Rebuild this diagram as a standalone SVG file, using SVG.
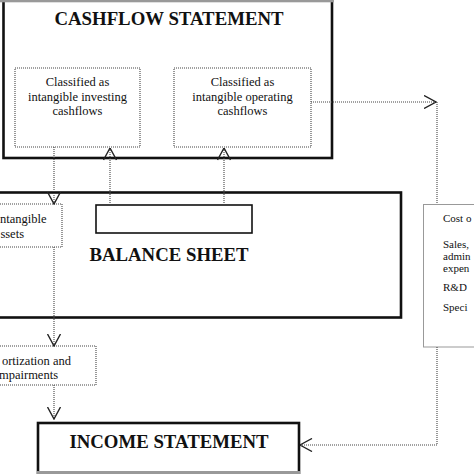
<svg xmlns="http://www.w3.org/2000/svg" width="474" height="474" viewBox="0 0 474 474">
<defs>
<style>
.thick{fill:none;stroke:#111;stroke-width:2.6}
.dot{fill:none;stroke:#444;stroke-width:1.1;stroke-dasharray:1 1}
.conn{fill:none;stroke:#444;stroke-width:1.1;stroke-dasharray:1 1}
.title{font-family:"Liberation Serif","Times New Roman",serif;font-weight:bold;font-size:18.8px;fill:#111;text-anchor:middle}
.lbl{font-family:"Liberation Serif","Times New Roman",serif;font-size:12.5px;fill:#111}
.sm{font-family:"Liberation Serif","Times New Roman",serif;font-size:11px;fill:#111}
.c{text-anchor:middle}
.e{text-anchor:end}
</style>
<marker id="ah" viewBox="0 0 13 14" refX="12.5" refY="7" markerWidth="13" markerHeight="14" markerUnits="userSpaceOnUse" orient="auto">
<path d="M0.5,0.5 L12.5,7 L0.5,13.5" fill="none" stroke="#222" stroke-width="1.4"/>
</marker>
</defs>
<rect width="474" height="474" fill="#fff"/>

<g id="cashflow">
<rect class="thick" x="3.5" y="-5" width="328.5" height="163"/>
<rect x="0" y="0" width="334" height="2.3" fill="#999"/>
<text class="title" x="169" y="25">CASHFLOW STATEMENT</text>
</g>

<g id="investing">
<rect class="dot" x="15" y="68" width="125" height="79" fill="#fff"/>
<text class="lbl c" x="77.5" y="86">Classified as</text>
<text class="lbl c" x="77.5" y="100.5">intangible investing</text>
<text class="lbl c" x="77.5" y="114.5">cashflows</text>
</g>

<g id="operating">
<rect class="dot" x="174" y="68" width="137" height="79" fill="#fff"/>
<text class="lbl c" x="242.5" y="86">Classified as</text>
<text class="lbl c" x="242.5" y="100.5">intangible operating</text>
<text class="lbl c" x="242.5" y="114.5">cashflows</text>
</g>

<g id="balance">
<rect class="thick" x="-10" y="192.5" width="411" height="125"/>
<rect x="96" y="205" width="156" height="28" fill="#fff" stroke="#111" stroke-width="1.6"/>
<text class="title" x="169" y="260.5">BALANCE SHEET</text>
</g>

<g id="intangible">
<rect class="dot" x="-20" y="204" width="82" height="43" fill="#fff"/>
<text class="lbl e" x="46.5" y="223">ntangible</text>
<text class="lbl e" x="24" y="237.5">ssets</text>
</g>

<g id="amortization">
<rect class="dot" x="-20" y="346" width="116" height="39" fill="#fff"/>
<text class="lbl e" x="71" y="365">ortization and</text>
<text class="lbl e" x="58" y="378.5">mpairments</text>
</g>

<g id="income">
<rect class="thick" x="38" y="423" width="261" height="60" fill="#fff"/>
<rect x="37" y="471" width="263" height="3" fill="#999"/>
<text class="title" x="169" y="448">INCOME STATEMENT</text>
</g>

<g id="expenses">
<rect x="423.5" y="204.5" width="60" height="142.5" fill="#fff" stroke="#999" stroke-width="1"/>
<g class="sm">
<text x="443" y="222">Cost o</text>
<text x="443" y="248">Sales,</text>
<text x="443" y="260">admin</text>
<text x="443" y="272">expen</text>
<text x="443" y="291">R&amp;D</text>
<text x="443" y="311">Speci</text>
</g>
</g>

<g id="connectors">
<path class="conn" d="M54,147 V204" marker-end="url(#ah)"/>
<path class="conn" d="M110,205 V148" marker-end="url(#ah)"/>
<path class="conn" d="M224,205 V148" marker-end="url(#ah)"/>
<path class="conn" d="M311,102 H436" marker-end="url(#ah)"/>
<path class="conn" d="M437,102 V204"/>
<path class="conn" d="M54,247 V346" marker-end="url(#ah)"/>
<path class="conn" d="M54,385 V419" marker-end="url(#ah)"/>
<path class="conn" d="M437,347 V445 H300" marker-end="url(#ah)"/>
</g>
</svg>
